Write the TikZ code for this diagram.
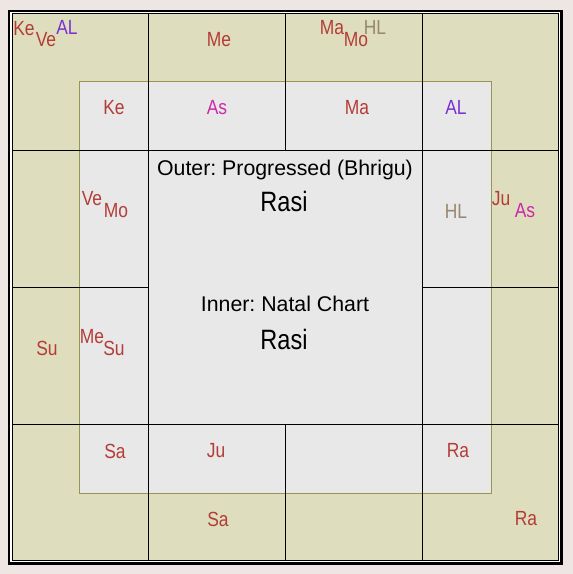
\documentclass[tikz,border=0pt]{standalone}
\usepackage{fontspec}
\setmainfont{Liberation Sans}
\newfontfamily\plfont[FakeStretch=0.85]{Liberation Sans}
\newfontfamily\rasifont[FakeStretch=0.84]{Liberation Sans}
\definecolor{bgpink}{RGB}{238,230,226}
\definecolor{outercell}{RGB}{222,222,190}
\definecolor{innercell}{RGB}{232,232,232}
\definecolor{oliveline}{RGB}{150,150,80}
\definecolor{plc}{RGB}{180,60,55}
\definecolor{asc}{RGB}{204,40,170}
\definecolor{alc}{RGB}{120,50,210}
\definecolor{hlc}{RGB}{150,135,110}
\frenchspacing
\begin{document}
\begin{tikzpicture}[x=1pt,y=-1pt,
  planet/.style={font=\plfont\fontsize{20.5}{21}\selectfont, text=plc, inner sep=0pt, anchor=center},
  ascl/.style={planet, text=asc},
  alcl/.style={planet, text=alc},
  hlcl/.style={planet, text=hlc},
  title/.style={font=\fontsize{21.3}{22}\selectfont, text=black, inner sep=0pt, anchor=base},
  rasi/.style={font=\rasifont\fontsize{28}{29}\selectfont, text=black, inner sep=0pt, anchor=center},
  gridline/.style={black, line width=1pt},
  innerborder/.style={oliveline, line width=1pt}]
\useasboundingbox (0,0) rectangle (573,574);
\fill[bgpink] (0,0) rectangle (573,574);
% outer frame
\draw[line width=2.6pt, fill=white] (9,11) rectangle (561.5,563.5);
% chart areas
\fill[outercell] (12,13.2) rectangle (558.5,560.7);
\fill[innercell] (79.3,81) rectangle (491.3,493.3);
\draw[innerborder] (79.3,81) rectangle (491.3,493.3);
% grid lines
\draw[gridline] (148.3,13.2) -- (148.3,560.7);
\draw[gridline] (422.3,13.2) -- (422.3,560.7);
\draw[gridline] (12,150) -- (558.5,150);
\draw[gridline] (12,424.3) -- (558.5,424.3);
\draw[gridline] (285.3,13.2) -- (285.3,150);
\draw[gridline] (285.3,424.3) -- (285.3,560.7);
\draw[gridline] (12,287.3) -- (148.3,287.3);
\draw[gridline] (422.3,287.3) -- (558.5,287.3);
\draw[line width=1pt] (12,13.2) rectangle (558.5,560.7);
% centre titles
\node[title] (outert) at (285,175) {Outer: Progressed (Bhrigu)};
\node[rasi] (rasia) at (284,201.5) {Rasi};
\node[title] (innert) at (285,311) {Inner: Natal Chart};
\node[rasi] (rasib) at (284,339) {Rasi};
% outer ring labels
\node[planet] (oKe) at (24,29) {Ke};
\node[planet] (oVe) at (46,40) {Ve};
\node[alcl] (oAL) at (67,27) {AL};
\node[planet] (oMe) at (219,40) {Me};
\node[planet] (oMa) at (332,28) {Ma};
\node[planet] (oMo) at (356,40) {Mo};
\node[hlcl] (oHL) at (375,27) {HL};
\node[planet] (oSu) at (47,348) {Su};
\node[planet] (oJu) at (501,199) {Ju};
\node[ascl] (oAs) at (525,211) {As};
\node[planet] (oSa) at (218,519) {Sa};
\node[planet] (oRa) at (526,519) {Ra};
% inner ring labels
\node[planet] (iKe) at (114,108) {Ke};
\node[ascl] (iAs) at (217,108) {As};
\node[planet] (iMa) at (357,108) {Ma};
\node[alcl] (iAL) at (456,107) {AL};
\node[planet] (iVe) at (92,199) {Ve};
\node[planet] (iMo) at (116,211) {Mo};
\node[planet] (iMe) at (92,337) {Me};
\node[planet] (iSu) at (114,348) {Su};
\node[hlcl] (iHL) at (456,211) {HL};
\node[planet] (iSa) at (115,451) {Sa};
\node[planet] (iJu) at (216,451) {Ju};
\node[planet] (iRa) at (458,451) {Ra};
\end{tikzpicture}
\end{document}
